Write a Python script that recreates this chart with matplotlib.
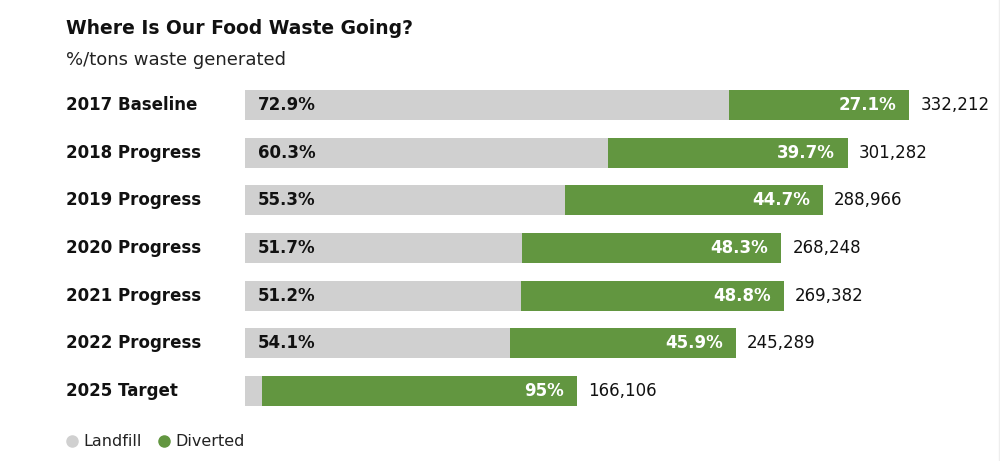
import matplotlib.pyplot as plt
from matplotlib.lines import Line2D

# data
categories = ["2017 Baseline", "2018 Progress", "2019 Progress", "2020 Progress",
              "2021 Progress", "2022 Progress", "2025 Target"]
landfill_pct = [72.9, 60.3, 55.3, 51.7, 51.2, 54.1, 5.0]
diverted_pct = [27.1, 39.7, 44.7, 48.3, 48.8, 45.9, 95.0]
tons = [332212, 301282, 288966, 268248, 269382, 245289, 166106]
landfill_labels = ["72.9%", "60.3%", "55.3%", "51.7%", "51.2%", "54.1%", ""]
diverted_labels = ["27.1%", "39.7%", "44.7%", "48.3%", "48.8%", "45.9%", "95%"]
legend_labels = ["Landfill", "Diverted"]

GRAY = "#d0d0d0"
GREEN = "#629640"
plt.rcParams["font.family"] = "DejaVu Sans"

W, H = 1000, 461
fig = plt.figure(figsize=(W / 100, H / 100), dpi=100)
# axes spans x 245..1000 px, bar rows 105..391 px
ax = fig.add_axes([0.245, 0.1002, 0.755, 0.7237])

landfill = [t * p / 100 for t, p in zip(tons, landfill_pct)]
diverted = [t * p / 100 for t, p in zip(tons, diverted_pct)]
ys = list(range(len(categories)))

ax.barh(ys, landfill, height=0.63, color=GRAY)
ax.barh(ys, diverted, left=landfill, height=0.63, color=GREEN)

xmax = 377500
ax.set_xlim(0, xmax)
ax.set_ylim(6.5, -0.5)
ax.axis("off")

px = xmax / 755  # one pixel in data units
for y, lf, dv, t, ll, dl, cat in zip(ys, landfill, diverted, tons,
                                     landfill_labels, diverted_labels, categories):
    if ll:
        ax.text(13 * px, y, ll, ha="left", va="center", fontsize=12,
                fontweight="bold", color="#111111")
    ax.text(lf + dv - 13 * px, y, dl, ha="right", va="center", fontsize=12,
            fontweight="bold", color="white")
    ax.text(lf + dv + 11 * px, y, f"{t:,}", ha="left", va="center", fontsize=12,
            color="#111111")
    ypix = ax.transData.transform((0, y))[1]
    fig.text(66 / W, ypix / H, cat, ha="left", va="center", fontsize=12,
             fontweight="bold", color="#111111")

fig.text(66 / W, 1 - 28 / H, "Where Is Our Food Waste Going?", ha="left", va="center",
         fontsize=13.5, fontweight="bold", color="#111111")
fig.text(66 / W, 1 - 60 / H, "%/tons waste generated", ha="left", va="center",
         fontsize=13, color="#222222")

# legend drawn by hand
leg_y = 1 - 441 / H
for cx, tx, col, lab in zip([72, 164], [83, 175], [GRAY, GREEN], legend_labels):
    fig.add_artist(Line2D([cx / W], [leg_y], marker="o", markersize=8, color=col,
                          linestyle="", transform=fig.transFigure))
    fig.text(tx / W, leg_y, lab, ha="left", va="center", fontsize=11.5, color="#222222")

# faint frame edge on the right
fig.add_artist(Line2D([998.5 / W, 998.5 / W], [0, 1], color="#eeeeee", lw=1,
                      transform=fig.transFigure))

fig.savefig("out.png", dpi=100)
